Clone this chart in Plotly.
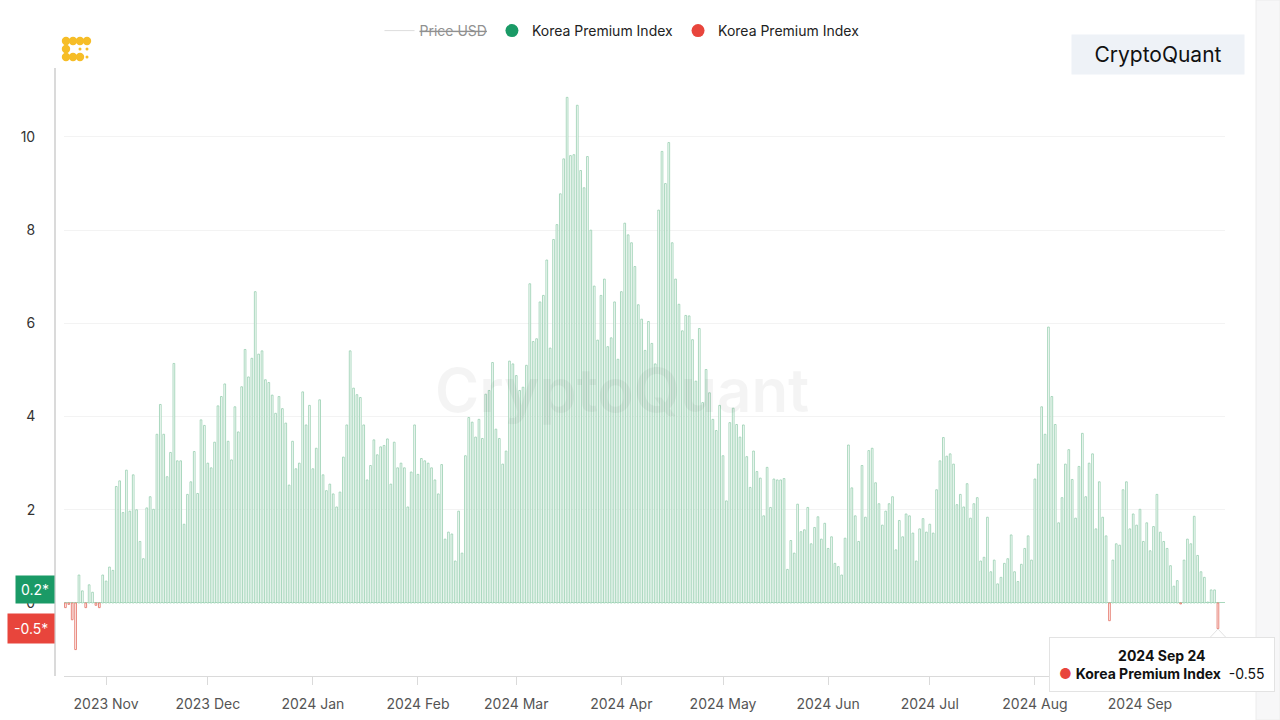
import pandas as pd
import plotly.graph_objects as go

# Korea Premium Index, daily values (2023-10-20 .. 2024-09-24)
oct_23 = [-0.1, -0.03, -0.36, -1.0, 0.6, 0.26, -0.1, 0.39, 0.23, -0.05, -0.1, 0.6]
nov_23 = [0.47, 0.77, 0.7, 2.5, 2.62, 1.94, 2.85, 1.97, 2.75, 2.0, 1.32, 0.95, 2.04, 2.28, 2.01,
          3.62, 4.26, 3.62, 2.71, 3.23, 5.14, 3.05, 3.05, 1.69, 2.33, 2.6, 3.25, 2.35, 3.93, 3.81]
dec_23 = [3.0, 2.9, 3.45, 4.23, 4.43, 4.7, 3.47, 3.07, 4.21, 3.67, 4.64, 5.44, 4.85, 5.25, 6.68,
          5.34, 5.41, 4.79, 4.73, 4.46, 4.07, 4.43, 4.17, 3.86, 2.53, 3.47, 2.88, 3.0, 4.53, 3.82, 4.24]
jan_24 = [2.88, 3.32, 4.36, 2.75, 2.41, 2.55, 2.34, 2.06, 2.38, 3.13, 3.82, 5.41, 4.61, 4.47, 4.41,
          3.82, 2.64, 2.95, 3.5, 3.18, 3.35, 3.38, 3.52, 2.55, 3.45, 2.9, 3.0, 2.9, 2.06, 2.81, 3.82]
feb_24 = [2.76, 3.1, 3.05, 3.0, 2.9, 2.64, 2.34, 2.97, 1.37, 1.52, 1.48, 0.9, 1.97, 1.07, 3.16,
          3.98, 3.88, 3.56, 3.94, 3.53, 4.48, 4.56, 5.16, 3.73, 3.53, 2.98, 3.26, 5.19, 5.13]
mar_24 = [4.88, 4.56, 4.63, 5.1, 6.85, 5.61, 5.67, 6.46, 6.6, 7.36, 5.47, 7.8, 8.12, 8.78, 9.53,
          10.85, 9.6, 9.62, 10.68, 9.28, 8.91, 9.58, 8.0, 6.8, 5.64, 6.6, 6.95, 5.5, 5.69, 6.46, 5.23]
apr_24 = [6.68, 8.15, 7.9, 7.73, 7.22, 6.4, 6.09, 5.42, 6.04, 5.57, 5.13, 8.43, 9.69, 9.0, 9.88,
          7.73, 6.95, 6.41, 5.84, 6.17, 6.16, 5.65, 4.76, 5.89, 4.3, 5.01, 4.51, 3.94, 3.7, 4.24]
may_24 = [3.16, 2.19, 3.87, 4.18, 3.83, 3.56, 3.82, 3.14, 2.48, 3.26, 2.82, 2.68, 1.87, 2.91, 2.05,
          2.66, 2.64, 2.64, 2.67, 0.72, 1.34, 1.07, 2.12, 1.53, 1.57, 2.05, 1.27, 1.62, 1.85, 1.37, 1.71]
jun_24 = [1.17, 1.42, 0.85, 0.78, 0.6, 1.39, 3.39, 2.47, 1.87, 1.32, 2.95, 1.84, 3.27, 3.32, 2.58,
          2.13, 1.67, 1.97, 2.13, 2.28, 1.14, 1.77, 1.42, 1.91, 1.87, 1.5, 0.9, 1.59, 1.81, 1.52]
jul_24 = [1.69, 1.5, 2.43, 3.05, 3.55, 3.15, 3.2, 2.98, 2.11, 2.33, 2.06, 2.56, 1.82, 2.13, 2.26,
          0.9, 0.98, 1.84, 0.67, 0.92, 0.41, 0.55, 0.85, 0.95, 1.46, 0.67, 0.46, 0.83, 1.17, 1.44, 0.92]
aug_24 = [2.66, 2.98, 4.21, 3.62, 5.92, 4.43, 3.83, 1.72, 2.26, 2.98, 3.29, 2.65, 1.82, 2.93, 3.64,
          2.28, 3.0, 3.2, 1.59, 2.6, 1.84, 1.44, -0.38, 0.92, 1.27, 1.24, 2.43, 2.6, 1.59, 1.91, 1.67]
sep_24 = [2.01, 1.32, 1.72, 1.12, 1.64, 2.33, 1.52, 1.32, 1.17, 0.8, 0.36, 0.48, -0.02, 0.92, 1.37,
          1.27, 1.86, 1.02, 0.67, 0.55, 0.02, 0.28, 0.28, -0.55]

premium = oct_23 + nov_23 + dec_23 + jan_24 + feb_24 + mar_24 + apr_24 + may_24 + jun_24 + jul_24 + aug_24 + sep_24
dates = pd.date_range("2023-10-20", periods=len(premium), freq="D")

pos_vals = [v if v > 0 else None for v in premium]
neg_vals = [v if v < 0 else None for v in premium]

GREEN = "#1a9a66"
RED = "#e8453c"
W, H = 1280, 720
M_T, M_B = 68, 44


def px_x(px):
    return px / W


def px_y(py):
    return (H - M_B - py) / (H - M_T - M_B)


fig = go.Figure()

fig.add_trace(go.Scatter(x=[None], y=[None], mode="lines", name="<s>Price USD</s>",
                         line=dict(color="#bbbbbb", width=1), visible="legendonly"))
fig.add_trace(go.Scatter(x=[None], y=[None], mode="markers", name="Korea Premium Index",
                         marker=dict(color=GREEN, size=13)))
fig.add_trace(go.Scatter(x=[None], y=[None], mode="markers", name="Korea Premium Index",
                         marker=dict(color=RED, size=13)))

fig.add_trace(go.Bar(x=dates, y=pos_vals, showlegend=False, hoverinfo="skip",
                     marker=dict(color="white", line=dict(color="#96ceae", width=0.8))))
fig.add_trace(go.Bar(x=dates, y=neg_vals, showlegend=False, hoverinfo="skip",
                     marker=dict(color="white", line=dict(color="#e5786c", width=0.9))))

# watermark
fig.add_annotation(x=px_x(622), y=px_y(390), xref="paper", yref="paper", text="CryptoQuant",
                   xanchor="center", yanchor="middle", showarrow=False,
                   font=dict(family="Inter", size=60, color="rgba(0,0,0,0.045)", weight=600))

# brand box top right
fig.add_annotation(x=px_x(1158), y=px_y(54), xref="paper", yref="paper", text="CryptoQuant",
                   xanchor="center", yanchor="middle", showarrow=False,
                   bgcolor="#eef2f7", borderpad=7, width=158,
                   font=dict(family="Inter", size=21, color="#111111"))

# logo dots
big = [(66, 41), (73, 41), (80, 41), (87, 41), (66, 49), (66, 57), (73, 57), (80, 57)]
small = [(80, 49), (87, 49), (87, 57)]
for cx, cy in big:
    fig.add_shape(type="circle", xref="paper", yref="paper", fillcolor="#f6bd27", line_width=0,
                  x0=px_x(cx - 4.2), x1=px_x(cx + 4.2), y0=px_y(cy + 4.2), y1=px_y(cy - 4.2))
for cx, cy in small:
    fig.add_shape(type="circle", xref="paper", yref="paper", fillcolor="#f6bd27", line_width=0,
                  x0=px_x(cx - 1.5), x1=px_x(cx + 1.5), y0=px_y(cy + 1.5), y1=px_y(cy - 1.5))

# right grey strip
fig.add_shape(type="rect", xref="paper", yref="paper", layer="below",
              x0=px_x(1256), x1=1, y0=px_y(H), y1=px_y(0),
              fillcolor="#f7f7f8", line=dict(color="#ececec", width=1))

# axis value tags
fig.add_annotation(x=px_x(55), y=0.28, xref="paper", yref="y", xanchor="right", yanchor="middle",
                   text="0.2*", showarrow=False, bgcolor=GREEN, borderpad=5,
                   font=dict(family="Inter", size=14, color="white"))
fig.add_annotation(x=px_x(55), y=-0.55, xref="paper", yref="y", xanchor="right", yanchor="middle",
                   text="-0.5*", showarrow=False, bgcolor=RED, borderpad=6,
                   font=dict(family="Inter", size=14, color="white"))

# tooltip with its little pointer
fig.add_annotation(x=px_x(1162), y=px_y(664), xref="paper", yref="paper",
                   xanchor="center", yanchor="middle",
                   text="<b>2024 Sep 24</b><br><span style='color:%s'>●</span> <b>Korea Premium Index</b>  -0.55" % RED,
                   showarrow=False, bgcolor="white", bordercolor="#e3e3e3", borderwidth=1, borderpad=9,
                   font=dict(family="Inter", size=14, color="#111111"))
fig.add_shape(type="path", xref="paper", yref="paper",
              path="M %f,%f L %f,%f L %f,%f" % (px_x(1210), px_y(637.5), px_x(1218), px_y(629),
                                                 px_x(1226), px_y(637.5)),
              fillcolor="white", line=dict(color="#e3e3e3", width=1))

fig.update_layout(
    width=W, height=H,
    margin=dict(l=0, r=0, t=M_T, b=M_B),
    paper_bgcolor="white", plot_bgcolor="white",
    barmode="overlay", bargap=0.5,
    font=dict(family="Inter", size=14, color="#333333"),
    showlegend=True,
    legend=dict(orientation="h", x=px_x(622), xanchor="center", y=px_y(31), yanchor="middle",
                font=dict(size=14, color="#222222"), itemclick=False),
    xaxis=dict(domain=[px_x(64), px_x(1225)], type="date",
               range=["2023-10-19 14:00", "2024-09-26 02:00"],
               showgrid=False, showline=True, linecolor="#dadada", linewidth=1,
               ticks="outside", ticklen=8, tickcolor="#dadada", ticklabelstandoff=7,
               tick0="2023-11-01", dtick="M1", tickformat="%Y %b",
               tickfont=dict(size=14, color="#555555")),
    yaxis=dict(anchor="free", position=px_x(55), range=[-1.567, 11.48],
               tickvals=[0, 2, 4, 6, 8, 10], showgrid=True, gridcolor="#f3f3f3",
               showline=True, linecolor="#dadada", linewidth=2,
               zeroline=True, zerolinecolor="#a8d8bd", zerolinewidth=1,
               ticks="outside", ticklen=16, tickcolor="rgba(0,0,0,0)",
               tickfont=dict(size=14, color="#333333")),
)

fig.write_html("out.html", config={"displayModeBar": False},
               post_script="document.body.style.margin='0';document.body.style.overflow='hidden';")
